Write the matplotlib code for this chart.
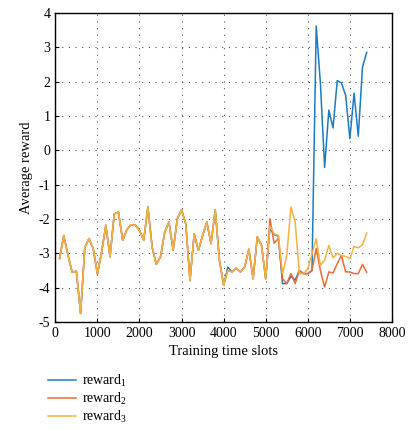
import matplotlib.pyplot as plt
from matplotlib.lines import Line2D

plt.rcParams['font.family'] = ['Liberation Serif', 'DejaVu Serif']
plt.rcParams['mathtext.fontset'] = 'custom'
plt.rcParams['mathtext.rm'] = 'Liberation Serif'
plt.rcParams['axes.unicode_minus'] = False

# training time slots (every 100 slots)
slots = list(range(100, 7500, 100))

# shared part of all three curves up to slot 5000
common = [-3.15, -2.48, -3.05, -3.55, -3.52, -4.75, -2.83, -2.57, -2.86, -3.6,
          -2.96, -2.18, -3.1, -1.85, -1.8, -2.62, -2.31, -2.17, -2.18, -2.33,
          -2.62, -1.65, -2.82, -3.32, -3.1, -2.38, -2.09, -2.91, -1.99, -1.73,
          -2.14, -3.79, -2.43, -2.91, -2.48, -2.09, -2.72, -1.73, -3.2, -3.93,
          -3.5, -3.54, -3.43, -3.54, -3.4, -2.88, -3.74, -2.52, -2.77, -3.74]

reward1 = common[:40] + [-3.4] + common[41:] + [
    -2.28, -2.45, -2.5, -3.88, -3.88, -3.67, -3.78, -3.5, -3.59, -3.59,
    -3.5, 3.62, 1.95, -0.5, 1.17, 0.65, 2.03, 1.96, 1.6, 0.34,
    1.66, 0.41, 2.42, 2.85]
reward2 = common + [
    -1.99, -2.7, -2.57, -3.74, -3.88, -3.59, -3.88, -3.5, -3.59, -3.59,
    -3.5, -2.86, -3.5, -3.98, -3.54, -3.57, -3.3, -3.06, -3.54, -3.54,
    -3.59, -3.59, -3.32, -3.55]
reward3 = common + [
    -2.2, -2.43, -2.48, -3.59, -3.06, -1.65, -2.09, -3.59, -3.59, -3.45,
    -3.02, -2.57, -3.35, -3.2, -2.77, -3.13, -3.0, -3.06, -3.09, -3.15,
    -2.8, -2.84, -2.75, -2.41]

colors = ['#1a7cc4', '#ef6a35', '#f5b23e']
labels = ['reward$_{\\mathregular{1}}$', 'reward$_{\\mathregular{2}}$', 'reward$_{\\mathregular{3}}$']

fig = plt.figure(figsize=(4.13, 4.30), dpi=100)
ax = fig.add_axes([0.134, 0.251, 0.815, 0.719])

ax.plot(slots, reward1, color=colors[0], lw=1.1)
ax.plot(slots, reward2, color=colors[1], lw=1.1)
ax.plot(slots, reward3, color=colors[2], lw=1.1)

ax.set_xlim(0, 8000)
ax.set_ylim(-5, 4)
ax.set_xticks(range(0, 8001, 1000))
ax.set_yticks(range(-5, 5))
ax.grid(True, linestyle=(0, (1, 5)), color='#555555', linewidth=0.8)
ax.tick_params(direction='in', labelsize=10, length=3, top=False, right=False)
for sp in ax.spines.values():
    sp.set_linewidth(1.0)

ax.set_xlabel('Training time slots', fontsize=10.5)
ax.set_ylabel('Average reward', fontsize=10.5)

handles = [Line2D([], [], color=c, lw=1.1) for c in colors]
fig.legend(handles, labels, loc='upper left', bbox_to_anchor=(0.11, 0.139),
           frameon=False, fontsize=10, handlelength=2.0, labelspacing=0.1,
           handletextpad=0.45, borderaxespad=0, borderpad=0.2)

fig.savefig('out.png', dpi=100)
